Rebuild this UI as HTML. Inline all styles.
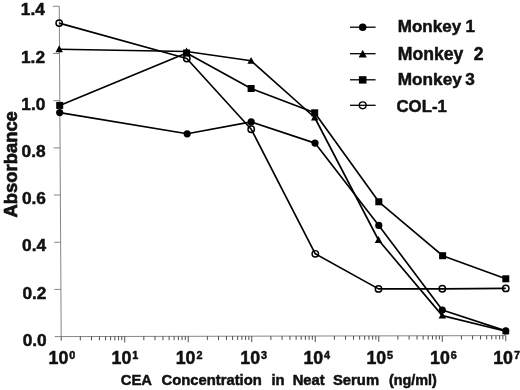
<!DOCTYPE html>
<html><head><meta charset="utf-8"><title>Absorbance vs CEA Concentration</title>
<style>html,body{margin:0;padding:0;background:#fff;}body{width:520px;height:390px;overflow:hidden;}svg{display:block;}text{font-family:"Liberation Sans",Arial,Helvetica,sans-serif;font-weight:bold;fill:#111;stroke:#111;stroke-width:0.5px;stroke-linejoin:round;}</style>
</head><body>
<svg width="520" height="390" viewBox="0 0 520 390">
<rect width="520" height="390" fill="#fff"/>
<g stroke="#787878" stroke-width="0.9" fill="none">
<line x1="61.20" y1="336.60" x2="59.25" y2="6.30"/>
<line x1="61.20" y1="336.60" x2="505.80" y2="335.60"/>
<line x1="54.70" y1="336.60" x2="61.20" y2="336.60"/>
<line x1="54.42" y1="289.41" x2="60.92" y2="289.41"/>
<line x1="54.14" y1="242.23" x2="60.64" y2="242.23"/>
<line x1="53.86" y1="195.04" x2="60.36" y2="195.04"/>
<line x1="53.59" y1="147.86" x2="60.09" y2="147.86"/>
<line x1="53.31" y1="100.67" x2="59.81" y2="100.67"/>
<line x1="53.03" y1="53.49" x2="59.53" y2="53.49"/>
<line x1="52.75" y1="6.30" x2="59.25" y2="6.30"/>
</g>
<g stroke="#3a3a3a" stroke-width="0.9" fill="none">
<line x1="61.20" y1="336.60" x2="61.20" y2="340.60"/>
<line x1="80.32" y1="336.56" x2="80.32" y2="340.36"/>
<line x1="91.50" y1="336.53" x2="91.50" y2="340.33"/>
<line x1="99.44" y1="336.51" x2="99.44" y2="340.31"/>
<line x1="105.59" y1="336.50" x2="105.59" y2="340.30"/>
<line x1="110.62" y1="336.49" x2="110.62" y2="340.29"/>
<line x1="114.88" y1="336.48" x2="114.88" y2="340.28"/>
<line x1="118.56" y1="336.47" x2="118.56" y2="340.27"/>
<line x1="121.81" y1="336.46" x2="121.81" y2="340.26"/>
<line x1="124.71" y1="336.46" x2="124.71" y2="342.46"/>
<line x1="143.83" y1="336.41" x2="143.83" y2="340.21"/>
<line x1="155.02" y1="336.39" x2="155.02" y2="340.19"/>
<line x1="162.95" y1="336.37" x2="162.95" y2="340.17"/>
<line x1="169.11" y1="336.36" x2="169.11" y2="340.16"/>
<line x1="174.14" y1="336.35" x2="174.14" y2="340.15"/>
<line x1="178.39" y1="336.34" x2="178.39" y2="340.14"/>
<line x1="182.07" y1="336.33" x2="182.07" y2="340.13"/>
<line x1="185.32" y1="336.32" x2="185.32" y2="340.12"/>
<line x1="188.23" y1="336.31" x2="188.23" y2="342.31"/>
<line x1="207.35" y1="336.27" x2="207.35" y2="340.07"/>
<line x1="218.53" y1="336.25" x2="218.53" y2="340.05"/>
<line x1="226.47" y1="336.23" x2="226.47" y2="340.03"/>
<line x1="232.62" y1="336.21" x2="232.62" y2="340.01"/>
<line x1="237.65" y1="336.20" x2="237.65" y2="340.00"/>
<line x1="241.90" y1="336.19" x2="241.90" y2="339.99"/>
<line x1="245.59" y1="336.19" x2="245.59" y2="339.99"/>
<line x1="248.84" y1="336.18" x2="248.84" y2="339.98"/>
<line x1="251.74" y1="336.17" x2="251.74" y2="342.17"/>
<line x1="270.86" y1="336.13" x2="270.86" y2="339.93"/>
<line x1="282.05" y1="336.10" x2="282.05" y2="339.90"/>
<line x1="289.98" y1="336.09" x2="289.98" y2="339.89"/>
<line x1="296.14" y1="336.07" x2="296.14" y2="339.87"/>
<line x1="301.17" y1="336.06" x2="301.17" y2="339.86"/>
<line x1="305.42" y1="336.05" x2="305.42" y2="339.85"/>
<line x1="309.10" y1="336.04" x2="309.10" y2="339.84"/>
<line x1="312.35" y1="336.04" x2="312.35" y2="339.84"/>
<line x1="315.26" y1="336.03" x2="315.26" y2="342.03"/>
<line x1="334.38" y1="335.99" x2="334.38" y2="339.79"/>
<line x1="345.56" y1="335.96" x2="345.56" y2="339.76"/>
<line x1="353.50" y1="335.94" x2="353.50" y2="339.74"/>
<line x1="359.65" y1="335.93" x2="359.65" y2="339.73"/>
<line x1="364.68" y1="335.92" x2="364.68" y2="339.72"/>
<line x1="368.93" y1="335.91" x2="368.93" y2="339.71"/>
<line x1="372.62" y1="335.90" x2="372.62" y2="339.70"/>
<line x1="375.87" y1="335.89" x2="375.87" y2="339.69"/>
<line x1="378.77" y1="335.89" x2="378.77" y2="341.89"/>
<line x1="397.89" y1="335.84" x2="397.89" y2="339.64"/>
<line x1="409.08" y1="335.82" x2="409.08" y2="339.62"/>
<line x1="417.01" y1="335.80" x2="417.01" y2="339.60"/>
<line x1="423.17" y1="335.79" x2="423.17" y2="339.59"/>
<line x1="428.20" y1="335.77" x2="428.20" y2="339.57"/>
<line x1="432.45" y1="335.76" x2="432.45" y2="339.56"/>
<line x1="436.13" y1="335.76" x2="436.13" y2="339.56"/>
<line x1="439.38" y1="335.75" x2="439.38" y2="339.55"/>
<line x1="442.29" y1="335.74" x2="442.29" y2="341.74"/>
<line x1="461.41" y1="335.70" x2="461.41" y2="339.50"/>
<line x1="472.59" y1="335.67" x2="472.59" y2="339.47"/>
<line x1="480.53" y1="335.66" x2="480.53" y2="339.46"/>
<line x1="486.68" y1="335.64" x2="486.68" y2="339.44"/>
<line x1="491.71" y1="335.63" x2="491.71" y2="339.43"/>
<line x1="495.96" y1="335.62" x2="495.96" y2="339.42"/>
<line x1="499.64" y1="335.61" x2="499.64" y2="339.41"/>
<line x1="502.89" y1="335.61" x2="502.89" y2="339.41"/>
<line x1="505.80" y1="335.60" x2="505.80" y2="341.20"/>
</g>
<g font-size="17.3">
<text x="22.7" y="345.7">0.0</text>
<text x="22.4" y="298.5">0.2</text>
<text x="22.1" y="251.3">0.4</text>
<text x="21.9" y="204.1">0.6</text>
<text x="21.6" y="156.9">0.8</text>
<text x="21.3" y="109.7">1.0</text>
<text x="21.0" y="62.5">1.2</text>
<text x="20.8" y="15.3">1.4</text>
</g>
<g>
<text x="48.6" y="364.4" font-size="17.8">10</text>
<text x="69.3" y="358.6" font-size="10.8">0</text>
<text x="111.5" y="364.4" font-size="17.8">10</text>
<text x="132.2" y="358.6" font-size="10.8">1</text>
<text x="175.7" y="364.4" font-size="17.8">10</text>
<text x="196.4" y="358.6" font-size="10.8">2</text>
<text x="240.3" y="364.4" font-size="17.8">10</text>
<text x="261.0" y="358.6" font-size="10.8">3</text>
<text x="303.4" y="364.4" font-size="17.8">10</text>
<text x="324.1" y="358.6" font-size="10.8">4</text>
<text x="366.4" y="364.4" font-size="17.8">10</text>
<text x="387.1" y="358.6" font-size="10.8">5</text>
<text x="430.1" y="364.4" font-size="17.8">10</text>
<text x="450.8" y="358.6" font-size="10.8">6</text>
<text x="493.2" y="364.4" font-size="17.8">10</text>
<text x="513.9" y="358.6" font-size="10.8">7</text>
</g>
<g font-size="14.8">
<text x="120.8" y="385.0">CEA</text>
<text x="161.5" y="385.0">Concentration</text>
<text x="271.5" y="385.0">in</text>
<text x="292.7" y="385.0">Neat</text>
<text x="333.0" y="385.0">Serum</text>
<text x="388.9" y="385.0" font-size="14.4">(ng/ml)</text>
</g>
<text font-size="18.4" text-anchor="middle" style="stroke-width:0.7px" transform="translate(16.8,164.3) rotate(-90)">Absorbance</text>
<g>
<polyline fill="none" stroke="#000" stroke-width="1.65" stroke-linejoin="round" points="59.2,23.1 186.8,58.5 251.2,129.2 315.3,253.8 378.5,288.9 442.3,288.8 505.8,288.4"/>
<polyline fill="none" stroke="#000" stroke-width="1.65" stroke-linejoin="round" points="59.7,112.6 187.2,133.8 251.2,121.9 315.0,143.1 378.8,225.4 442.3,310.0 505.8,330.9"/>
<polyline fill="none" stroke="#000" stroke-width="1.65" stroke-linejoin="round" points="59.2,49.2 186.6,51.5 251.1,60.8 314.7,117.5 378.5,240.0 442.3,315.6 505.8,331.2"/>
<polyline fill="none" stroke="#000" stroke-width="1.65" stroke-linejoin="round" points="59.7,105.4 186.6,53.0 251.1,88.5 314.7,112.8 378.8,201.8 442.6,255.7 505.8,278.8"/>
<circle cx="59.2" cy="23.1" r="3.2" fill="none" stroke="#000" stroke-width="1.45"/>
<circle cx="186.8" cy="58.5" r="3.2" fill="none" stroke="#000" stroke-width="1.45"/>
<circle cx="251.2" cy="129.2" r="3.2" fill="none" stroke="#000" stroke-width="1.45"/>
<circle cx="315.3" cy="253.8" r="3.2" fill="none" stroke="#000" stroke-width="1.45"/>
<circle cx="378.5" cy="288.9" r="3.2" fill="none" stroke="#000" stroke-width="1.45"/>
<circle cx="442.3" cy="288.8" r="3.2" fill="none" stroke="#000" stroke-width="1.45"/>
<circle cx="505.8" cy="288.4" r="3.2" fill="none" stroke="#000" stroke-width="1.45"/>
<circle cx="59.7" cy="112.6" r="3.6" fill="#000"/>
<circle cx="187.2" cy="133.8" r="3.6" fill="#000"/>
<circle cx="251.2" cy="121.9" r="3.6" fill="#000"/>
<circle cx="315.0" cy="143.1" r="3.6" fill="#000"/>
<circle cx="378.8" cy="225.4" r="3.6" fill="#000"/>
<circle cx="442.3" cy="310.0" r="3.6" fill="#000"/>
<circle cx="505.8" cy="330.9" r="3.6" fill="#000"/>
<polygon fill="#000" points="59.2,45.3 62.9,52.2 55.5,52.2"/>
<polygon fill="#000" points="186.6,47.6 190.3,54.5 182.9,54.5"/>
<polygon fill="#000" points="251.1,56.9 254.8,63.8 247.4,63.8"/>
<polygon fill="#000" points="314.7,113.6 318.4,120.5 311.0,120.5"/>
<polygon fill="#000" points="378.5,236.1 382.2,243.0 374.8,243.0"/>
<polygon fill="#000" points="442.3,311.7 446.0,318.6 438.6,318.6"/>
<polygon fill="#000" points="505.8,327.3 509.5,334.2 502.1,334.2"/>
<rect x="56.2" y="101.9" width="7" height="7" fill="#000"/>
<rect x="183.1" y="49.5" width="7" height="7" fill="#000"/>
<rect x="247.6" y="85.0" width="7" height="7" fill="#000"/>
<rect x="311.2" y="109.3" width="7" height="7" fill="#000"/>
<rect x="375.3" y="198.3" width="7" height="7" fill="#000"/>
<rect x="439.1" y="252.2" width="7" height="7" fill="#000"/>
<rect x="502.3" y="275.3" width="7" height="7" fill="#000"/>
</g>
<g>
<line x1="350.0" y1="27.2" x2="375.6" y2="27.2" stroke="#000" stroke-width="1.3"/>
<circle cx="362.7" cy="27.2" r="3.8" fill="#000"/>
<text x="397.8" y="31.8" font-size="17.0">Monkey</text>
<text x="465.6" y="31.8" font-size="17.0">1</text>
<line x1="350.0" y1="53.7" x2="375.6" y2="53.7" stroke="#000" stroke-width="1.3"/>
<polygon fill="#000" points="362.7,49.7 366.8,57.5 358.6,57.5"/>
<text x="397.8" y="59.5" font-size="17.6">Monkey</text>
<text x="473.8" y="59.5" font-size="17.6">2</text>
<line x1="350.0" y1="79.8" x2="375.6" y2="79.8" stroke="#000" stroke-width="1.3"/>
<rect x="358.9" y="76.2" width="7.6" height="7.4" fill="#000"/>
<text x="397.8" y="84.7" font-size="17.2">Monkey</text>
<text x="465.2" y="84.7" font-size="17.2">3</text>
<line x1="350.0" y1="105.3" x2="375.6" y2="105.3" stroke="#000" stroke-width="1.3"/>
<circle cx="362.7" cy="105.3" r="3.4" fill="none" stroke="#000" stroke-width="1.4"/>
<text x="396.5" y="111.6" font-size="16.8">COL-1</text>
</g>
</svg>
</body></html>
